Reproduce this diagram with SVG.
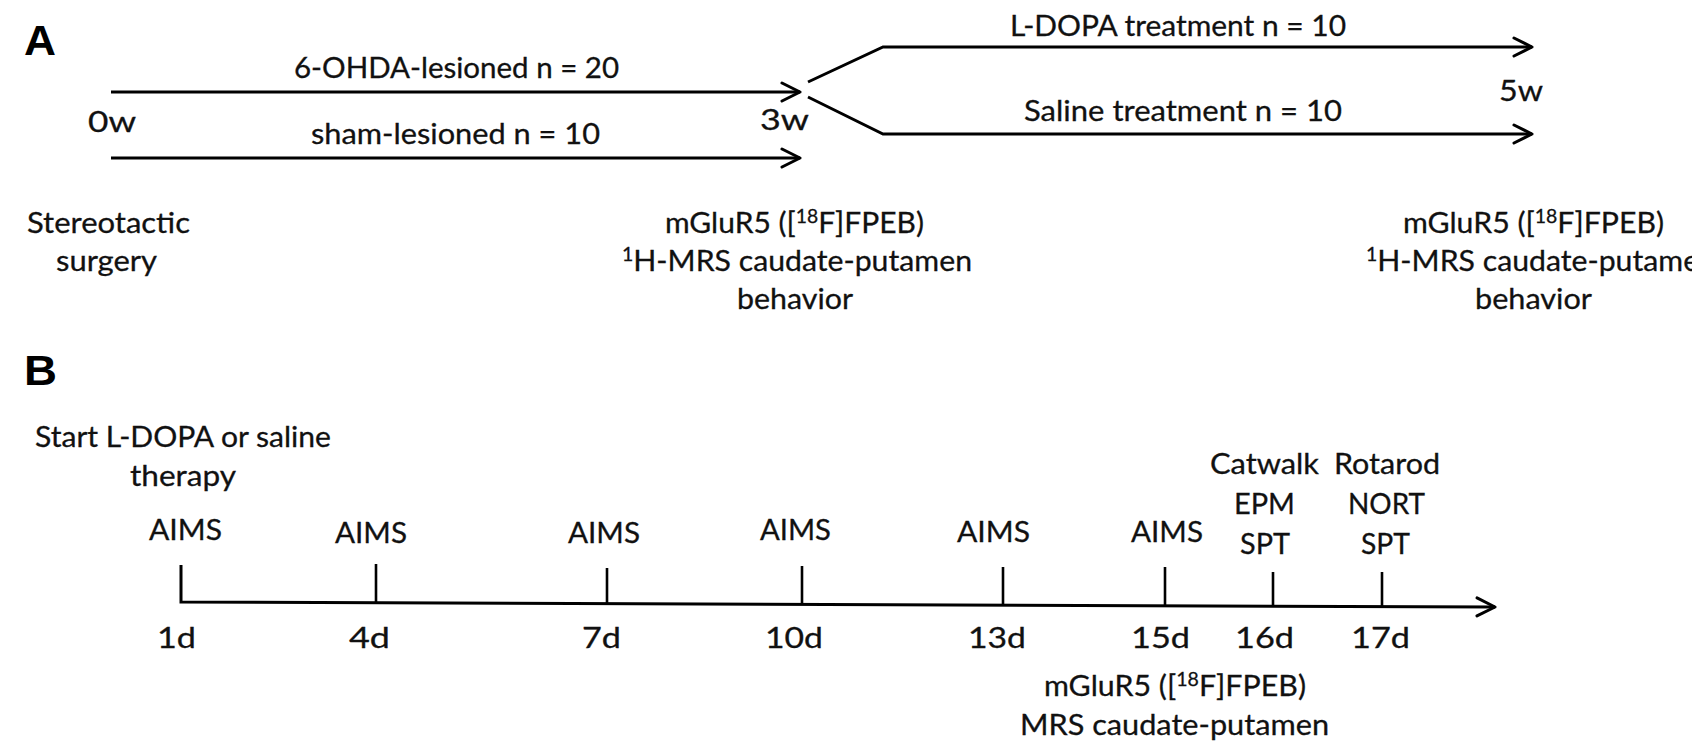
<svg xmlns="http://www.w3.org/2000/svg" width="1692" height="752" viewBox="0 0 1692 752">
<style>
.t{font-family:Lato,"Open Sans","Liberation Sans",sans-serif;font-size:29.5px;fill:#111;stroke:#111;stroke-width:0.3}
.p{font-family:"Liberation Sans",Arial,sans-serif;font-weight:bold;font-size:42px;fill:#000}
.ln{fill:none;stroke:#000;stroke-width:3}
.tk{fill:none;stroke:#000;stroke-width:2.6}
.sup{font-size:19px}
</style>
<defs>
<marker id="arr" viewBox="0 0 24 24" refX="20" refY="12" markerWidth="24" markerHeight="24" markerUnits="userSpaceOnUse" orient="auto">
<path d="M2,3 L20,12 L2,21" fill="none" stroke="#000" stroke-width="3" stroke-linejoin="round" stroke-linecap="round"/>
</marker>
</defs>
<rect width="1692" height="752" fill="#fff"/>

<g id="panel-labels">
<text class="p" x="24" y="55" textLength="32" lengthAdjust="spacingAndGlyphs">A</text>
<text class="p" x="24" y="385" textLength="33" lengthAdjust="spacingAndGlyphs">B</text>
</g>

<g id="connectors">
<path class="ln" d="M111 92 H800" marker-end="url(#arr)"/>
<path class="ln" d="M111 158 H800" marker-end="url(#arr)"/>
<path class="ln" d="M808 82 L883 47 H1532" marker-end="url(#arr)"/>
<path class="ln" d="M808 97 L883 134 H1532" marker-end="url(#arr)"/>
<path class="ln" d="M181 565 V602 L1495 607" marker-end="url(#arr)"/>
<path class="tk" d="M376 564 V603"/>
<path class="tk" d="M607 568 V604"/>
<path class="tk" d="M802 566 V605"/>
<path class="tk" d="M1003 567 V606"/>
<path class="tk" d="M1165 567 V606"/>
<path class="tk" d="M1273 572 V607"/>
<path class="tk" d="M1382 572 V607"/>
</g>

<g id="a-lesioned"><text class="t" x="294" y="78" textLength="325" lengthAdjust="spacingAndGlyphs">6-OHDA-lesioned n = 20</text></g>
<g id="a-sham"><text class="t" x="311" y="144" textLength="289" lengthAdjust="spacingAndGlyphs">sham-lesioned n = 10</text></g>
<g id="a-0w"><text class="t" x="88" y="132" textLength="48" lengthAdjust="spacingAndGlyphs">0w</text></g>
<g id="a-3w"><text class="t" x="760" y="130" textLength="49" lengthAdjust="spacingAndGlyphs">3w</text></g>
<g id="a-ldopa"><text class="t" x="1010" y="36" textLength="336" lengthAdjust="spacingAndGlyphs">L-DOPA treatment n = 10</text></g>
<g id="a-saline"><text class="t" x="1024" y="121" textLength="318" lengthAdjust="spacingAndGlyphs">Saline treatment n = 10</text></g>
<g id="a-5w"><text class="t" x="1499" y="101" textLength="44" lengthAdjust="spacingAndGlyphs">5w</text></g>

<g id="a-surgery">
<text class="t" x="27" y="233" textLength="163" lengthAdjust="spacingAndGlyphs">Stereotactic</text>
<text class="t" x="56" y="271" textLength="101" lengthAdjust="spacingAndGlyphs">surgery</text>
</g>
<g id="a-3w-measures">
<text class="t" x="665" y="233" textLength="259" lengthAdjust="spacingAndGlyphs">mGluR5 ([<tspan class="sup" dy="-10">18</tspan><tspan dy="10">F]FPEB)</tspan></text>
<text class="t" x="622" y="271" textLength="350" lengthAdjust="spacingAndGlyphs"><tspan class="sup" dy="-10">1</tspan><tspan dy="10">H-MRS caudate-putamen</tspan></text>
<text class="t" x="737" y="309" textLength="116" lengthAdjust="spacingAndGlyphs">behavior</text>
</g>
<g id="a-5w-measures">
<text class="t" x="1403" y="233" textLength="261" lengthAdjust="spacingAndGlyphs">mGluR5 ([<tspan class="sup" dy="-10">18</tspan><tspan dy="10">F]FPEB)</tspan></text>
<text class="t" x="1366" y="271" textLength="350" lengthAdjust="spacingAndGlyphs"><tspan class="sup" dy="-10">1</tspan><tspan dy="10">H-MRS caudate-putamen</tspan></text>
<text class="t" x="1475" y="309" textLength="117" lengthAdjust="spacingAndGlyphs">behavior</text>
</g>

<g id="b-start">
<text class="t" x="35" y="447" textLength="296" lengthAdjust="spacingAndGlyphs">Start L-DOPA or saline</text>
<text class="t" x="130" y="486" textLength="106" lengthAdjust="spacingAndGlyphs">therapy</text>
</g>
<g id="b-d1"><text class="t" x="149" y="540" textLength="73" lengthAdjust="spacingAndGlyphs">AIMS</text><text class="t" x="157" y="648" textLength="39" lengthAdjust="spacingAndGlyphs">1d</text></g>
<g id="b-d4"><text class="t" x="335" y="543" textLength="72" lengthAdjust="spacingAndGlyphs">AIMS</text><text class="t" x="349" y="648" textLength="41" lengthAdjust="spacingAndGlyphs">4d</text></g>
<g id="b-d7"><text class="t" x="568" y="543" textLength="72" lengthAdjust="spacingAndGlyphs">AIMS</text><text class="t" x="582" y="648" textLength="39" lengthAdjust="spacingAndGlyphs">7d</text></g>
<g id="b-d10"><text class="t" x="760" y="540" textLength="71" lengthAdjust="spacingAndGlyphs">AIMS</text><text class="t" x="765" y="648" textLength="58" lengthAdjust="spacingAndGlyphs">10d</text></g>
<g id="b-d13"><text class="t" x="957" y="542" textLength="73" lengthAdjust="spacingAndGlyphs">AIMS</text><text class="t" x="968" y="648" textLength="58" lengthAdjust="spacingAndGlyphs">13d</text></g>
<g id="b-d15"><text class="t" x="1131" y="542" textLength="72" lengthAdjust="spacingAndGlyphs">AIMS</text><text class="t" x="1131" y="648" textLength="59" lengthAdjust="spacingAndGlyphs">15d</text></g>
<g id="b-d16">
<text class="t" x="1210" y="474" textLength="109" lengthAdjust="spacingAndGlyphs">Catwalk</text>
<text class="t" x="1234" y="514" textLength="61" lengthAdjust="spacingAndGlyphs">EPM</text>
<text class="t" x="1240" y="554" textLength="50" lengthAdjust="spacingAndGlyphs">SPT</text>
<text class="t" x="1235" y="648" textLength="59" lengthAdjust="spacingAndGlyphs">16d</text>
</g>
<g id="b-d17">
<text class="t" x="1334" y="474" textLength="106" lengthAdjust="spacingAndGlyphs">Rotarod</text>
<text class="t" x="1348" y="514" textLength="77" lengthAdjust="spacingAndGlyphs">NORT</text>
<text class="t" x="1361" y="554" textLength="49" lengthAdjust="spacingAndGlyphs">SPT</text>
<text class="t" x="1351" y="648" textLength="59" lengthAdjust="spacingAndGlyphs">17d</text>
</g>
<g id="b-d15-measures">
<text class="t" x="1044" y="696" textLength="262" lengthAdjust="spacingAndGlyphs">mGluR5 ([<tspan class="sup" dy="-10">18</tspan><tspan dy="10">F]FPEB)</tspan></text>
<text class="t" x="1020" y="735" textLength="309" lengthAdjust="spacingAndGlyphs">MRS caudate-putamen</text>
</g>
</svg>
